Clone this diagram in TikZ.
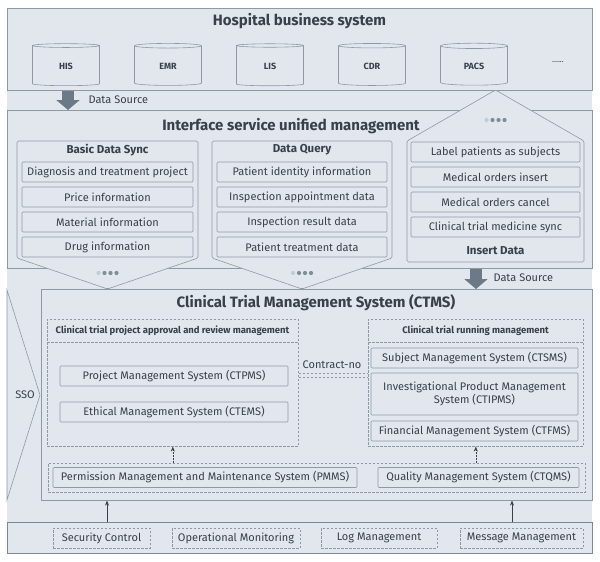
\documentclass[tikz,border=0pt]{standalone}
\usepackage{fontspec}
\setmainfont{Fira Sans}
\usetikzlibrary{arrows.meta,positioning,calc,shapes.geometric}
\definecolor{panelBg}{HTML}{E2E7EE}
\definecolor{lineGr}{HTML}{8E99A5}
\definecolor{barGr}{HTML}{7D8893}
\definecolor{txtDk}{HTML}{394047}
\definecolor{arrowGr}{HTML}{6C7A88}
\definecolor{dotDk}{HTML}{7F8C99}
\definecolor{dotLt}{HTML}{C3CBD3}
\tikzset{
  panel/.style={draw=lineGr, fill=panelBg, line width=0.6pt, anchor=north west, inner sep=0pt},
  grp/.style={draw=lineGr, fill=panelBg, line width=0.6pt, rounded corners=1.5pt},
  dgrp/.style={draw=lineGr, line width=0.6pt, dash pattern=on 2.5pt off 1.5pt, anchor=north west, inner sep=0pt},
  title/.style={font=\fontsize{15}{18}\selectfont\bfseries, text=txtDk},
  gtitle/.style={font=\fontsize{11.5}{13.5}\selectfont\bfseries, text=txtDk},
  htitle/.style={font=\fontsize{9.5}{11}\selectfont\bfseries, text=txtDk},
  lbl/.style={font=\fontsize{11}{13}\selectfont, text=txtDk},
  item/.style={draw=lineGr, line width=0.6pt, rounded corners=1pt, font=\fontsize{11}{13.5}\selectfont,
    text=txtDk, minimum height=20pt, inner sep=1pt, minimum width=#1},
  item/.default={170pt},
  dbox/.style={item=#1, dash pattern=on 2.5pt off 1.5pt, rounded corners=0pt},
  db/.style={cylinder, shape border rotate=90, aspect=0.24, draw=lineGr, fill=panelBg, line width=0.6pt,
    minimum width=67pt, minimum height=42pt, inner sep=1pt, font=\fontsize{9}{10}\selectfont\bfseries, text=txtDk},
  bigarrow/.style={arrowGr, line width=12pt, -{Triangle[width=23pt, length=10pt]}},
}
\begin{document}
\begin{tikzpicture}[x=1pt, y=-1pt, >={Stealth[length=5pt, width=4pt]}]
\useasboundingbox (0,0) rectangle (600,562);
\fill[panelBg] (7,8) rectangle (592,553);
% hospital business system
\node[panel, minimum width=585pt, minimum height=82pt] (hbs) at (7,8) {};
\node[title] (hbsT) at (299.5,21) {Hospital business system};
\foreach \n/\x/\t in {his/66/HIS, emr/168/EMR, lis/270/LIS, cdr/372/CDR, pacs/474/PACS}
  \node[db] (\n) at (\x,66) {\t};
\node[font=\fontsize{8}{9}\selectfont, text=txtDk] (more) at (558,62) {......};
% interface service and ctms frames
\node[panel, minimum width=585pt, minimum height=158pt] (isum) at (7,110) {};
\node[title] (isumT) at (291,126) {Interface service unified management};
\node[panel, minimum width=551pt, minimum height=211pt] (ctms) at (41,289) {};
\node[title] (ctmsT) at (316,303) {Clinical Trial Management System (CTMS)};
% basic data sync
\draw[grp] (17,258) -- (17,141) -- (198,141) -- (198,258) -- (107.5,289) coordinate (bdsTip) -- cycle;
\node[gtitle] (bdsT) at (107.5,150) {Basic Data Sync};
\foreach \t [count=\i] in {Diagnosis and treatment project, Price information, Material information, Drug information}
  \node[item=171pt] (bds\i) at (107.5,147+25*\i) {\t};
% data query
\draw[grp] (212,258) -- (212,141) -- (392,141) -- (392,258) -- (302,289) coordinate (dqTip) -- cycle;
\node[gtitle] (dqT) at (302,150) {Data Query};
\foreach \t [count=\i] in {Patient identity information, Inspection appointment data, Inspection result data, Patient treatment data}
  \node[item] (dq\i) at (302,147+25*\i) {\t};
% insert data
\draw[grp] (407,262) -- (407,141) -- (495.5,90) coordinate (idTip) -- (584,141) -- (584,262) -- cycle;
\foreach \t [count=\i] in {Label patients as subjects, Medical orders insert, Medical orders cancel, Clinical trial medicine sync}
  \node[item=169pt] (id\i) at (495.5,127+25*\i) {\t};
\node[gtitle] (idT) at (495.5,251) {Insert Data};
% dots
\foreach \c in {bdsTip, dqTip} \path ($(\c)+(0,-16)$) coordinate (\c D);
\path ($(idTip)+(0,30)$) coordinate (idTipD);
\foreach \c in {bdsTipD, dqTipD, idTipD}
  \foreach \i/\col in {0/dotLt, 1/dotDk, 2/dotDk, 3/dotDk}
    \fill[\col] ($(\c)+(-9+6*\i,0)$) circle (2.1pt);
% data source arrows
\coordinate (dsTop) at (68,0);
\coordinate (dsBot) at (476,0);
\draw[bigarrow] (hbs.south -| dsTop) -- (isum.north -| dsTop);
\node[lbl, anchor=west] (dsTopL) at (85,100) {Data Source};
\draw[bigarrow] (isum.south -| dsBot) -- (ctms.north -| dsBot);
\node[lbl, anchor=west] (dsBotL) at (490,278) {Data Source};
% sso
\draw[grp, rounded corners=0pt] (7,290) -- (40,395) coordinate (ssoTip) -- (7,500) -- cycle;
\node[lbl] (sso) at (25,395) {SSO};
% approval and review management
\node[dgrp, minimum width=251pt, minimum height=127pt] (appr) at (47,319) {};
\draw[dgrp] (47,342) -- (298,342);
\node[htitle] (apprT) at (172.5,331) {Clinical trial project approval and review management};
\node[item=228pt] (ctpms) at (174,376) {Project Management System (CTPMS)};
\node[item=228pt] (ctems) at (174,412) {Ethical Management System (CTEMS)};
% running management
\node[dgrp, minimum width=215pt, minimum height=127pt] (run) at (368,319) {};
\draw[dgrp] (368,342) -- (583,342);
\node[htitle] (runT) at (475.5,331) {Clinical trial running management};
\node[item=207pt] (ctsms) at (474.5,358) {Subject Management System (CTSMS)};
\node[item=207pt, minimum height=42pt, align=center] (ctipms) at (474.5,394) {Investigational Product Management\\System (CTIPMS)};
\node[item=207pt] (ctfms) at (474.5,431) {Financial Management System (CTFMS)};
% contract link
\node[lbl] (cno) at (332,365) {Contract-no};
\draw[dgrp] (appr.east |- 0,373) -- (run.west |- 0,373);
\draw[dgrp] (appr.east |- 0,377) -- (run.west |- 0,377);
% base systems
\node[dgrp, minimum width=537pt, minimum height=29pt] (base) at (48,463) {};
\node[item=304pt] (pmms) at (205,477.5) {Permission Management and Maintenance System (PMMS)};
\node[item=201pt] (ctqms) at (478.5,477.5) {Quality Management System (CTQMS)};
\draw[->, draw=txtDk, line width=0.6pt, dash pattern=on 2pt off 1pt] (base.north -| appr.south) -- (appr.south);
\draw[->, draw=txtDk, line width=0.6pt, dash pattern=on 2pt off 1pt] (base.north -| run.south) -- (run.south);
% infrastructure bar
\node[panel, draw=barGr, line width=1.3pt, minimum width=585pt, minimum height=31pt] (bar) at (7,522) {};
\node[dbox=97pt] (sec) at (101.5,538) {Security Control};
\node[dbox=128pt] (ops) at (236,538) {Operational Monitoring};
\node[dbox=116pt] (logm) at (379,538) {Log Management};
\node[dbox=123pt] (msg) at (521.5,538) {Message Management};
\coordinate (upL) at (107,0);
\coordinate (upR) at (512,0);
\draw[->, draw=txtDk, line width=0.9pt] (bar.north -| upL) -- (ctms.south -| upL);
\draw[->, draw=txtDk, line width=0.9pt] (bar.north -| upR) -- (ctms.south -| upR);
\end{tikzpicture}
\end{document}
